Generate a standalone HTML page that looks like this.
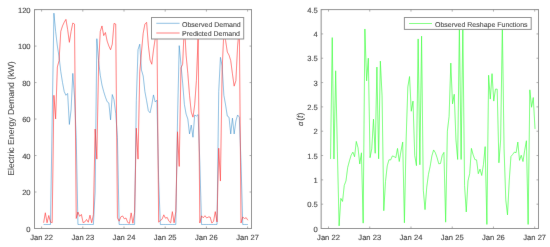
<!DOCTYPE html>
<html><head><meta charset="utf-8"><style>
html,body{margin:0;padding:0;background:#fff;}
svg{display:block;}
text{text-rendering:geometricPrecision;font-family:"Liberation Sans",Arial,sans-serif;fill:#383838;stroke:#383838;stroke-width:0.12px;}
</style></head><body>
<svg width="550" height="247" viewBox="0 0 550 247">
<rect width="550" height="247" fill="#fff"/>
<defs><clipPath id="cl"><rect x="34.5" y="9.6" width="217.0" height="218.9"/></clipPath><clipPath id="cr"><rect x="321.15" y="9.6" width="217.35000000000002" height="218.9"/></clipPath><filter id="bl" filterUnits="userSpaceOnUse" x="0" y="0" width="550" height="247"><feConvolveMatrix order="3" kernelMatrix="0.005 0.045 0.005 0.045 0.8 0.045 0.005 0.045 0.005" edgeMode="none"/></filter></defs>
<g filter="url(#bl)"><rect width="550" height="247" fill="#fff"/>
<g clip-path="url(#cl)" fill="none" stroke-width="0.9" stroke-linejoin="round">
<polyline points="43.62,224.49 45.33,224.49 47.05,224.49 48.77,224.49 50.48,224.49 52.20,119.00 53.92,13.15 55.63,31.40 57.35,46.00 59.07,56.95 60.78,71.55 62.50,82.50 64.22,91.62 65.93,95.28 67.65,93.45 69.37,124.47 71.08,109.88 72.80,73.38 74.52,97.10 76.23,137.25 77.95,224.49 79.67,224.49 81.38,224.49 83.10,224.49 84.82,224.49 86.53,224.49 88.25,224.49 89.97,224.49 91.68,224.49 93.40,224.49 95.12,192.00 96.83,38.70 98.55,60.60 100.27,75.20 101.98,85.06 103.70,91.62 105.42,97.10 107.13,101.66 108.85,102.94 110.57,119.91 112.28,94.54 114.00,99.66 115.72,113.53 117.43,137.25 119.15,224.49 120.87,224.49 122.58,224.49 124.30,224.49 126.02,224.49 127.73,224.49 129.45,224.49 131.17,224.49 132.88,224.49 134.60,224.49 136.32,100.75 138.03,49.65 139.75,44.18 141.47,70.09 143.18,75.93 144.90,91.62 146.62,100.75 148.33,110.79 150.05,112.80 151.77,104.95 153.48,94.91 155.20,102.03 156.92,100.20 158.63,179.22 160.35,224.49 162.07,224.49 163.78,224.49 165.50,224.49 167.22,224.49 168.93,224.49 170.65,224.49 172.37,224.49 174.08,224.49 175.80,224.49 177.52,119.00 179.23,45.64 180.95,64.25 182.67,83.05 184.38,104.40 186.10,114.07 187.82,119.00 189.53,133.97 191.25,125.02 192.97,137.25 194.68,114.98 196.40,116.08 198.12,114.62 199.83,162.80 201.55,224.49 203.27,224.49 204.98,224.49 206.70,224.49 208.42,224.49 210.13,224.49 211.85,224.49 213.57,224.49 215.28,224.49 217.00,224.49 218.72,91.62 220.43,57.31 222.15,66.07 223.87,95.28 225.58,104.95 227.30,116.08 229.02,117.17 230.73,133.97 232.45,118.09 234.17,133.97 235.88,121.01 237.60,114.98 239.32,117.17 241.03,162.80 242.75,224.49 244.47,224.49 246.18,224.49 247.90,224.49" stroke="#0072bd" stroke-opacity="0.5"/>
<polyline points="43.62,222.77 45.33,212.75 47.05,222.77 48.77,215.49 50.48,222.11 52.20,222.66 53.92,95.28 55.63,119.00 57.35,66.99 59.07,60.60 60.78,31.40 62.50,25.93 64.22,22.28 65.93,19.36 67.65,29.57 69.37,42.35 71.08,31.40 72.80,23.01 74.52,24.10 76.23,218.46 77.95,212.04 79.67,216.33 81.38,214.45 83.10,222.66 84.82,221.93 86.53,219.47 88.25,222.29 89.97,215.18 91.68,222.75 93.40,214.68 95.12,129.04 96.83,159.15 98.55,66.07 100.27,31.40 101.98,25.93 103.70,35.60 105.42,32.49 107.13,41.07 108.85,46.00 110.57,49.83 112.28,44.18 114.00,23.37 115.72,24.10 117.43,217.91 119.15,221.20 120.87,216.82 122.58,215.96 124.30,218.83 126.02,217.99 127.73,222.48 129.45,223.32 131.17,212.86 132.88,223.24 134.60,212.62 136.32,128.12 138.03,159.15 139.75,71.91 141.47,52.02 143.18,33.22 144.90,24.10 146.62,22.28 148.33,45.09 150.05,60.05 151.77,64.25 153.48,50.01 155.20,38.70 156.92,27.75 158.63,222.11 160.35,220.47 162.07,219.27 163.78,214.85 165.50,218.23 167.22,217.42 168.93,221.20 170.65,222.81 172.37,211.64 174.08,222.81 175.80,211.64 177.52,131.78 179.23,166.45 180.95,67.90 182.67,64.25 184.38,24.10 186.10,55.12 187.82,73.38 189.53,95.28 191.25,112.07 192.97,117.17 194.68,104.95 196.40,80.68 198.12,36.88 199.83,223.03 201.55,215.85 203.27,217.82 204.98,215.72 206.70,217.99 208.42,217.00 210.13,217.00 211.85,223.08 213.57,221.20 215.28,211.64 217.00,221.93 218.72,148.20 220.43,181.05 222.15,69.72 223.87,31.40 225.58,40.53 227.30,52.02 229.02,55.12 230.73,60.60 232.45,73.92 234.17,86.15 235.88,80.68 237.60,46.00 239.32,27.75 241.03,223.03 242.75,217.06 244.47,218.50 246.18,217.70 247.90,220.29" stroke="#ff0000" stroke-opacity="0.58"/>
</g>
<g clip-path="url(#cr)" fill="none" stroke-width="0.9" stroke-linejoin="round">
<polyline points="330.52,159.04 332.24,37.59 333.95,159.04 335.67,70.78 337.39,151.08 339.11,225.90 340.83,198.39 342.55,201.46 344.26,185.43 345.98,180.87 347.70,167.38 349.42,160.97 351.14,155.18 352.86,152.10 354.57,156.82 356.29,141.41 358.01,147.64 359.73,164.03 361.45,152.80 363.17,223.15 364.88,28.97 366.60,80.95 368.32,58.17 370.04,157.71 371.76,148.86 373.48,119.00 375.19,153.29 376.91,67.02 378.63,158.82 380.35,61.04 382.07,95.88 383.79,210.72 385.50,181.42 387.22,165.93 388.94,159.77 390.66,159.91 392.38,155.91 394.10,156.59 395.81,157.76 397.53,148.42 399.25,161.53 400.97,151.02 402.69,141.98 404.41,222.85 406.12,140.02 407.84,86.92 409.56,76.53 411.28,111.26 413.00,101.08 414.72,155.50 416.44,165.68 418.15,38.92 419.87,164.79 421.59,36.05 423.31,190.26 425.03,209.63 426.75,187.16 428.46,174.28 430.18,166.21 431.90,155.82 433.62,149.94 435.34,152.67 437.06,157.65 438.77,163.80 440.49,163.48 442.21,155.46 443.93,152.35 445.65,222.19 447.37,131.17 449.08,116.57 450.80,63.03 452.52,103.96 454.24,94.22 455.96,140.02 457.68,159.48 459.39,24.10 461.11,159.48 462.83,24.10 464.55,185.51 466.27,211.99 467.99,180.91 469.70,173.54 471.42,148.34 473.14,154.76 474.86,159.56 476.58,159.92 478.30,173.74 480.01,169.13 481.73,175.53 483.45,164.51 485.17,146.61 486.89,224.44 488.61,75.20 490.32,99.09 492.04,73.65 493.76,101.08 495.48,89.14 497.20,89.14 498.92,162.80 500.63,140.02 502.35,24.10 504.07,148.86 505.79,199.95 507.51,215.01 509.22,180.93 510.94,156.50 512.66,154.46 514.38,152.10 516.10,152.71 517.82,142.06 519.53,160.37 521.25,155.22 522.97,161.57 524.69,150.26 526.41,140.74 528.13,224.44 529.84,89.80 531.56,107.28 533.28,97.54 535.00,128.95" stroke="#00ff00" stroke-opacity="0.6"/>
</g>
<rect x="34.5" y="9.6" width="217.00" height="218.90" fill="none" stroke="#8a8a8a" stroke-width="1.0"/>
<rect x="321.15" y="9.6" width="217.35" height="218.90" fill="none" stroke="#8a8a8a" stroke-width="1.0"/>
<line x1="41.60" y1="228.50" x2="41.60" y2="226.50" stroke="#8a8a8a" stroke-width="0.7"/>
<line x1="41.60" y1="9.60" x2="41.60" y2="11.60" stroke="#8a8a8a" stroke-width="0.7"/>
<text x="41.60" y="240.00" text-anchor="middle" font-size="7.6" >Jan 22</text>
<line x1="328.50" y1="228.50" x2="328.50" y2="226.50" stroke="#8a8a8a" stroke-width="0.7"/>
<line x1="328.50" y1="9.60" x2="328.50" y2="11.60" stroke="#8a8a8a" stroke-width="0.7"/>
<text x="328.50" y="240.00" text-anchor="middle" font-size="7.6" >Jan 22</text>
<line x1="82.80" y1="228.50" x2="82.80" y2="226.50" stroke="#8a8a8a" stroke-width="0.7"/>
<line x1="82.80" y1="9.60" x2="82.80" y2="11.60" stroke="#8a8a8a" stroke-width="0.7"/>
<text x="82.80" y="240.00" text-anchor="middle" font-size="7.6" >Jan 23</text>
<line x1="369.74" y1="228.50" x2="369.74" y2="226.50" stroke="#8a8a8a" stroke-width="0.7"/>
<line x1="369.74" y1="9.60" x2="369.74" y2="11.60" stroke="#8a8a8a" stroke-width="0.7"/>
<text x="369.74" y="240.00" text-anchor="middle" font-size="7.6" >Jan 23</text>
<line x1="124.00" y1="228.50" x2="124.00" y2="226.50" stroke="#8a8a8a" stroke-width="0.7"/>
<line x1="124.00" y1="9.60" x2="124.00" y2="11.60" stroke="#8a8a8a" stroke-width="0.7"/>
<text x="124.00" y="240.00" text-anchor="middle" font-size="7.6" >Jan 24</text>
<line x1="410.98" y1="228.50" x2="410.98" y2="226.50" stroke="#8a8a8a" stroke-width="0.7"/>
<line x1="410.98" y1="9.60" x2="410.98" y2="11.60" stroke="#8a8a8a" stroke-width="0.7"/>
<text x="410.98" y="240.00" text-anchor="middle" font-size="7.6" >Jan 24</text>
<line x1="165.20" y1="228.50" x2="165.20" y2="226.50" stroke="#8a8a8a" stroke-width="0.7"/>
<line x1="165.20" y1="9.60" x2="165.20" y2="11.60" stroke="#8a8a8a" stroke-width="0.7"/>
<text x="165.20" y="240.00" text-anchor="middle" font-size="7.6" >Jan 25</text>
<line x1="452.22" y1="228.50" x2="452.22" y2="226.50" stroke="#8a8a8a" stroke-width="0.7"/>
<line x1="452.22" y1="9.60" x2="452.22" y2="11.60" stroke="#8a8a8a" stroke-width="0.7"/>
<text x="452.22" y="240.00" text-anchor="middle" font-size="7.6" >Jan 25</text>
<line x1="206.40" y1="228.50" x2="206.40" y2="226.50" stroke="#8a8a8a" stroke-width="0.7"/>
<line x1="206.40" y1="9.60" x2="206.40" y2="11.60" stroke="#8a8a8a" stroke-width="0.7"/>
<text x="206.40" y="240.00" text-anchor="middle" font-size="7.6" >Jan 26</text>
<line x1="493.46" y1="228.50" x2="493.46" y2="226.50" stroke="#8a8a8a" stroke-width="0.7"/>
<line x1="493.46" y1="9.60" x2="493.46" y2="11.60" stroke="#8a8a8a" stroke-width="0.7"/>
<text x="493.46" y="240.00" text-anchor="middle" font-size="7.6" >Jan 26</text>
<line x1="247.60" y1="228.50" x2="247.60" y2="226.50" stroke="#8a8a8a" stroke-width="0.7"/>
<line x1="247.60" y1="9.60" x2="247.60" y2="11.60" stroke="#8a8a8a" stroke-width="0.7"/>
<text x="247.60" y="240.00" text-anchor="middle" font-size="7.6" >Jan 27</text>
<line x1="534.70" y1="228.50" x2="534.70" y2="226.50" stroke="#8a8a8a" stroke-width="0.7"/>
<line x1="534.70" y1="9.60" x2="534.70" y2="11.60" stroke="#8a8a8a" stroke-width="0.7"/>
<text x="534.70" y="240.00" text-anchor="middle" font-size="7.6" >Jan 27</text>
<line x1="34.50" y1="228.50" x2="36.50" y2="228.50" stroke="#8a8a8a" stroke-width="0.7"/>
<line x1="251.50" y1="228.50" x2="249.50" y2="228.50" stroke="#8a8a8a" stroke-width="0.7"/>
<text x="30.60" y="231.70" text-anchor="end" font-size="7.6" >0</text>
<line x1="34.50" y1="192.02" x2="36.50" y2="192.02" stroke="#8a8a8a" stroke-width="0.7"/>
<line x1="251.50" y1="192.02" x2="249.50" y2="192.02" stroke="#8a8a8a" stroke-width="0.7"/>
<text x="30.60" y="195.22" text-anchor="end" font-size="7.6" >20</text>
<line x1="34.50" y1="155.53" x2="36.50" y2="155.53" stroke="#8a8a8a" stroke-width="0.7"/>
<line x1="251.50" y1="155.53" x2="249.50" y2="155.53" stroke="#8a8a8a" stroke-width="0.7"/>
<text x="30.60" y="158.73" text-anchor="end" font-size="7.6" >40</text>
<line x1="34.50" y1="119.05" x2="36.50" y2="119.05" stroke="#8a8a8a" stroke-width="0.7"/>
<line x1="251.50" y1="119.05" x2="249.50" y2="119.05" stroke="#8a8a8a" stroke-width="0.7"/>
<text x="30.60" y="122.25" text-anchor="end" font-size="7.6" >60</text>
<line x1="34.50" y1="82.57" x2="36.50" y2="82.57" stroke="#8a8a8a" stroke-width="0.7"/>
<line x1="251.50" y1="82.57" x2="249.50" y2="82.57" stroke="#8a8a8a" stroke-width="0.7"/>
<text x="30.60" y="85.77" text-anchor="end" font-size="7.6" >80</text>
<line x1="34.50" y1="46.08" x2="36.50" y2="46.08" stroke="#8a8a8a" stroke-width="0.7"/>
<line x1="251.50" y1="46.08" x2="249.50" y2="46.08" stroke="#8a8a8a" stroke-width="0.7"/>
<text x="30.60" y="49.28" text-anchor="end" font-size="7.6" >100</text>
<line x1="34.50" y1="9.60" x2="36.50" y2="9.60" stroke="#8a8a8a" stroke-width="0.7"/>
<line x1="251.50" y1="9.60" x2="249.50" y2="9.60" stroke="#8a8a8a" stroke-width="0.7"/>
<text x="30.60" y="12.80" text-anchor="end" font-size="7.6" >120</text>
<line x1="321.15" y1="228.50" x2="323.15" y2="228.50" stroke="#8a8a8a" stroke-width="0.7"/>
<line x1="538.50" y1="228.50" x2="536.50" y2="228.50" stroke="#8a8a8a" stroke-width="0.7"/>
<text x="317.80" y="231.70" text-anchor="end" font-size="7.6" >0</text>
<line x1="321.15" y1="204.18" x2="323.15" y2="204.18" stroke="#8a8a8a" stroke-width="0.7"/>
<line x1="538.50" y1="204.18" x2="536.50" y2="204.18" stroke="#8a8a8a" stroke-width="0.7"/>
<text x="317.80" y="207.38" text-anchor="end" font-size="7.6" >0.5</text>
<line x1="321.15" y1="179.86" x2="323.15" y2="179.86" stroke="#8a8a8a" stroke-width="0.7"/>
<line x1="538.50" y1="179.86" x2="536.50" y2="179.86" stroke="#8a8a8a" stroke-width="0.7"/>
<text x="317.80" y="183.06" text-anchor="end" font-size="7.6" >1</text>
<line x1="321.15" y1="155.53" x2="323.15" y2="155.53" stroke="#8a8a8a" stroke-width="0.7"/>
<line x1="538.50" y1="155.53" x2="536.50" y2="155.53" stroke="#8a8a8a" stroke-width="0.7"/>
<text x="317.80" y="158.73" text-anchor="end" font-size="7.6" >1.5</text>
<line x1="321.15" y1="131.21" x2="323.15" y2="131.21" stroke="#8a8a8a" stroke-width="0.7"/>
<line x1="538.50" y1="131.21" x2="536.50" y2="131.21" stroke="#8a8a8a" stroke-width="0.7"/>
<text x="317.80" y="134.41" text-anchor="end" font-size="7.6" >2</text>
<line x1="321.15" y1="106.89" x2="323.15" y2="106.89" stroke="#8a8a8a" stroke-width="0.7"/>
<line x1="538.50" y1="106.89" x2="536.50" y2="106.89" stroke="#8a8a8a" stroke-width="0.7"/>
<text x="317.80" y="110.09" text-anchor="end" font-size="7.6" >2.5</text>
<line x1="321.15" y1="82.57" x2="323.15" y2="82.57" stroke="#8a8a8a" stroke-width="0.7"/>
<line x1="538.50" y1="82.57" x2="536.50" y2="82.57" stroke="#8a8a8a" stroke-width="0.7"/>
<text x="317.80" y="85.77" text-anchor="end" font-size="7.6" >3</text>
<line x1="321.15" y1="58.24" x2="323.15" y2="58.24" stroke="#8a8a8a" stroke-width="0.7"/>
<line x1="538.50" y1="58.24" x2="536.50" y2="58.24" stroke="#8a8a8a" stroke-width="0.7"/>
<text x="317.80" y="61.44" text-anchor="end" font-size="7.6" >3.5</text>
<line x1="321.15" y1="33.92" x2="323.15" y2="33.92" stroke="#8a8a8a" stroke-width="0.7"/>
<line x1="538.50" y1="33.92" x2="536.50" y2="33.92" stroke="#8a8a8a" stroke-width="0.7"/>
<text x="317.80" y="37.12" text-anchor="end" font-size="7.6" >4</text>
<line x1="321.15" y1="9.60" x2="323.15" y2="9.60" stroke="#8a8a8a" stroke-width="0.7"/>
<line x1="538.50" y1="9.60" x2="536.50" y2="9.60" stroke="#8a8a8a" stroke-width="0.7"/>
<text x="317.80" y="12.80" text-anchor="end" font-size="7.6" >4.5</text>
<text transform="translate(13.6,118.6) rotate(-90)" text-anchor="middle" font-size="8.7" style="stroke-width:0.05px">Electric Energy Demand (kW)</text>
<text transform="translate(303.3,119.3) rotate(-90)" text-anchor="middle" font-size="8.7" font-family="Liberation Serif, serif" style="stroke-width:0.1px"><tspan font-style="italic" font-size="7.6">α</tspan><tspan dx="0.9">(</tspan><tspan font-style="italic">t</tspan>)</text>
<rect x="151.5" y="17.5" width="92.2" height="21.5" fill="#fff" stroke="#8a8a8a" stroke-width="1.0"/>
<line x1="156.3" y1="23.3" x2="179.6" y2="23.3" stroke="#0072bd" stroke-opacity="0.5" stroke-width="0.9"/>
<line x1="156.3" y1="33.0" x2="179.6" y2="33.0" stroke="#ff0000" stroke-opacity="0.58" stroke-width="0.9"/>
<text x="182.00" y="26.70" text-anchor="start" font-size="7.0" style="stroke-width:0.08px">Observed Demand</text>
<text x="182.00" y="35.90" text-anchor="start" font-size="7.0" style="stroke-width:0.08px">Predicted Demand</text>
<rect x="404.4" y="17.5" width="126.8" height="11.9" fill="#fff" stroke="#8a8a8a" stroke-width="1.0"/>
<line x1="409.0" y1="23.5" x2="432.0" y2="23.5" stroke="#00ff00" stroke-opacity="0.6" stroke-width="0.9"/>
<text x="435.00" y="26.70" text-anchor="start" font-size="7.0" style="stroke-width:0.08px">Observed Reshape Functions</text>
</g>
</svg>
</body></html>
